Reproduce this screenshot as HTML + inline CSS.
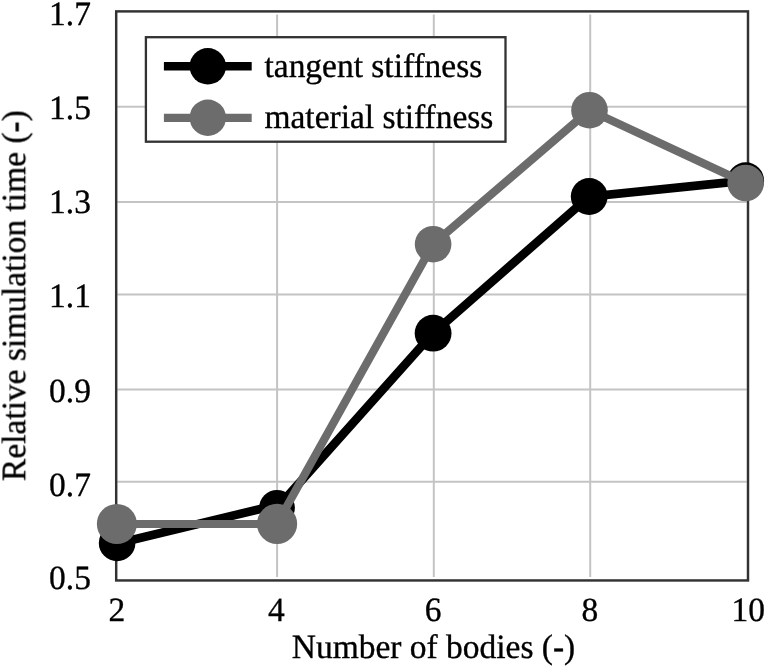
<!DOCTYPE html>
<html>
<head>
<meta charset="utf-8">
<title>Relative simulation time</title>
<style>
html,body{margin:0;padding:0;background:#fff;}
body{width:766px;height:666px;overflow:hidden;}
svg{display:block;font-size:35px;}
text{font-family:"Liberation Serif","Times New Roman",serif;fill:#000;text-rendering:geometricPrecision;stroke:#000;stroke-width:0.35px;stroke-linejoin:round;}
</style>
</head>
<body>
<svg width="766" height="666" viewBox="0 0 766 666">
<defs><filter id="soft" x="0" y="0" width="766" height="666" filterUnits="userSpaceOnUse"><feGaussianBlur stdDeviation="0.4"/></filter></defs>
<rect x="0" y="0" width="766" height="666" fill="#ffffff"/>
<g filter="url(#soft)">
<!-- grid -->
<g stroke="#c4c4c4" stroke-width="2" fill="none">
<line x1="277.1" y1="14.4" x2="277.1" y2="577.1"/>
<line x1="433.8" y1="14.4" x2="433.8" y2="577.1"/>
<line x1="590.2" y1="14.4" x2="590.2" y2="577.1"/>
<line x1="117.4" y1="106.7" x2="746.7" y2="106.7"/>
<line x1="117.4" y1="202.0" x2="746.7" y2="202.0"/>
<line x1="117.4" y1="294.5" x2="746.7" y2="294.5"/>
<line x1="117.4" y1="389.6" x2="746.7" y2="389.6"/>
<line x1="117.4" y1="481.7" x2="746.7" y2="481.7"/>
</g>
<!-- frame -->
<rect x="116.2" y="11.4" width="631.8" height="569.05" fill="none" stroke="#303030" stroke-width="2.45"/>
<!-- series black -->
<g>
<line x1="117.1" y1="543.6" x2="277" y2="504.9" stroke="#000" stroke-width="8.7"/>
<polyline points="277,508 433.1,333.2 589.2,196.5 745.7,180.7" fill="none" stroke="#000" stroke-width="8.7" stroke-linejoin="round"/>
<circle cx="117.1" cy="542.9" r="18.3" fill="#000"/>
<circle cx="277" cy="507.8" r="17.9" fill="#000"/>
<circle cx="433.1" cy="333.2" r="18.4" fill="#000"/>
<circle cx="589.2" cy="196.5" r="18.4" fill="#000"/>
<circle cx="745.7" cy="180.7" r="18.4" fill="#000"/>
</g>
<!-- series gray -->
<g>
<polyline points="116.85,524 277.05,523.9 433.1,244.2 589.5,110.2 745.65,183" fill="none" stroke="#6c6c6c" stroke-width="8.2" stroke-linejoin="round"/>
<circle cx="116.85" cy="524" r="20" fill="#6c6c6c"/>
<circle cx="277.05" cy="523.9" r="20.1" fill="#6c6c6c"/>
<circle cx="433.1" cy="244.2" r="18.3" fill="#6c6c6c"/>
<circle cx="589.5" cy="110.2" r="18.3" fill="#6c6c6c"/>
<circle cx="745.65" cy="183" r="18.3" fill="#6c6c6c"/>
</g>
<!-- legend -->
<rect x="145.9" y="37.2" width="359.6" height="104.5" fill="#fff" stroke="#303030" stroke-width="2.3"/>
<line x1="163.9" y1="66.25" x2="251.7" y2="66.25" stroke="#000" stroke-width="8.7"/>
<circle cx="207.8" cy="66.3" r="18.2" fill="#000"/>
<line x1="163.9" y1="117.8" x2="251.7" y2="117.8" stroke="#6c6c6c" stroke-width="8.2"/>
<circle cx="207.8" cy="117.7" r="18.2" fill="#6c6c6c"/>
<text transform="translate(264.5,76.9) scale(0.984,1)" style="font-size:34px">tangent stiffness</text>
<text transform="translate(264.5,127.8) scale(0.984,1)" style="font-size:34px">material stiffness</text>
<!-- y ticks -->
<g text-anchor="end" style="font-size:34px">
<text transform="translate(90.9,25.2) scale(0.984,1)">1.7</text>
<text transform="translate(90.9,119) scale(0.984,1)">1.5</text>
<text transform="translate(90.9,212.7) scale(0.984,1)">1.3</text>
<text transform="translate(90.9,307) scale(0.984,1)">1.1</text>
<text transform="translate(90.9,401.6) scale(0.984,1)">0.9</text>
<text transform="translate(90.9,495.5) scale(0.984,1)">0.7</text>
<text transform="translate(90.9,589.2) scale(0.984,1)">0.5</text>
</g>
<!-- x ticks -->
<g text-anchor="middle" style="font-size:34px">
<text transform="translate(116.8,621.1) scale(0.984,1)">2</text>
<text transform="translate(276.3,621.1) scale(0.984,1)">4</text>
<text transform="translate(433,621.1) scale(0.984,1)">6</text>
<text transform="translate(589.9,621.1) scale(0.984,1)">8</text>
<text transform="translate(748.3,621.1) scale(0.984,1)">10</text>
</g>
<text transform="translate(433.5,657.8) scale(0.984,1)" style="font-size:34px" text-anchor="middle">Number of bodies (-)</text>
<text transform="translate(25.2,295.6) rotate(-90) scale(0.984,1)" style="font-size:34px" text-anchor="middle">Relative simulation time (-)</text>
</g>
</svg>
</body>
</html>
